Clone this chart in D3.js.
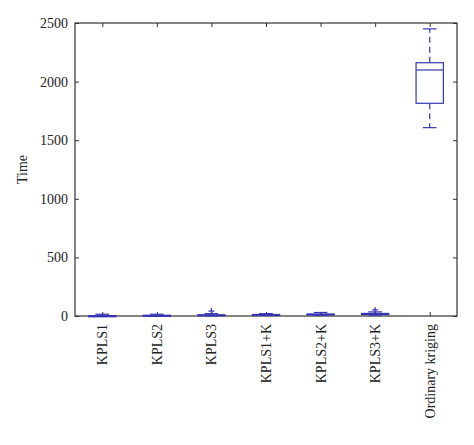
<!DOCTYPE html>
<html lang="en">
<head>
<meta charset="utf-8" />
<title>Time box plot</title>
<style>
  body { margin: 0; padding: 0; background: #fff; }
  svg text { font-family: "Liberation Serif", "DejaVu Serif", serif; fill: #222; }
  .frame { fill: none; stroke: #333; stroke-width: 1.2px; }
  .tick line { stroke: #333; }
  .domain { display: none; }
</style>
</head>
<body>
<div id="chart"></div>
<script src="https://d3js.org/d3.v7.min.js"></script>
<script>
// box statistics
const categories = ['KPLS1', 'KPLS2', 'KPLS3', 'KPLS1+K', 'KPLS2+K', 'KPLS3+K', 'Ordinary kriging'];
const whiskerLow = [0.5, 2, 3, 5, 7, 8, 1607];
const q1 = [1, 3, 5, 8, 10, 12, 1815];
const median = [1.5, 4, 7, 10, 13, 16, 2099];
const q3 = [2, 6, 10, 13, 17, 22, 2161];
const whiskerHigh = [15, 15, 20, 20, 30, 35, 2450];
const outliers = [[], [], [42], [], [], [52], []];
const yTicks = [0, 500, 1000, 1500, 2000, 2500];

const width = 474, height = 445;
const margin = { top: 23, right: 17, bottom: 129, left: 75 };
const color = '#3636b4';
const serif = '"Liberation Serif", "DejaVu Serif", serif';

const svg = d3.select('#chart').append('svg')
    .attr('width', width)
    .attr('height', height);

const x = d3.scalePoint()
    .domain(categories)
    .range([margin.left, width - margin.right])
    .padding(0.5);

const y = d3.scaleLinear()
    .domain([0, 2500])
    .range([height - margin.bottom, margin.top]);

const boxW = x.step() * 0.5;

// axes with inward ticks
svg.append('g')
    .attr('transform', `translate(${margin.left},0)`)
    .call(d3.axisLeft(y).tickValues(yTicks).tickFormat(d3.format('d')).tickSize(-4).tickPadding(7))
    .attr('font-family', serif)
    .attr('font-size', 14);

svg.append('g')
    .attr('transform', `translate(${width - margin.right},0)`)
    .call(d3.axisRight(y).tickValues(yTicks).tickSize(-4).tickFormat(''));

svg.append('g')
    .attr('transform', `translate(0,${margin.top})`)
    .call(d3.axisTop(x).tickSize(-4).tickFormat(''));

svg.append('g')
    .attr('transform', `translate(0,${height - margin.bottom})`)
    .call(d3.axisBottom(x).tickSize(-4).tickFormat(''));

svg.append('g').selectAll('text')
    .data(categories)
    .enter().append('text')
    .attr('transform', d => `translate(${x(d) + 5},${height - margin.bottom + 8}) rotate(-90)`)
    .attr('text-anchor', 'end')
    .attr('font-size', 14)
    .text(d => d);

svg.append('rect')
    .attr('class', 'frame')
    .attr('x', margin.left)
    .attr('y', margin.top)
    .attr('width', width - margin.left - margin.right)
    .attr('height', height - margin.top - margin.bottom);

svg.append('text')
    .attr('transform', `translate(27,${(margin.top + height - margin.bottom) / 2}) rotate(-90)`)
    .attr('text-anchor', 'middle')
    .attr('font-size', 14)
    .text('Time');

// boxes
const box = svg.append('g')
    .selectAll('g')
    .data(categories)
    .enter().append('g')
    .attr('stroke', color)
    .attr('fill', 'none')
    .attr('stroke-width', 1.2);

box.append('line')
    .attr('x1', d => x(d)).attr('x2', d => x(d))
    .attr('y1', (d, i) => y(q3[i])).attr('y2', (d, i) => y(whiskerHigh[i]))
    .attr('stroke-dasharray', '6,4');

box.append('line')
    .attr('x1', d => x(d)).attr('x2', d => x(d))
    .attr('y1', (d, i) => y(q1[i])).attr('y2', (d, i) => y(whiskerLow[i]))
    .attr('stroke-dasharray', '6,4');

box.append('line')
    .attr('x1', d => x(d) - boxW / 4).attr('x2', d => x(d) + boxW / 4)
    .attr('y1', (d, i) => y(whiskerHigh[i])).attr('y2', (d, i) => y(whiskerHigh[i]));

box.append('line')
    .attr('x1', d => x(d) - boxW / 4).attr('x2', d => x(d) + boxW / 4)
    .attr('y1', (d, i) => y(whiskerLow[i])).attr('y2', (d, i) => y(whiskerLow[i]));

box.append('rect')
    .attr('x', d => x(d) - boxW / 2)
    .attr('width', boxW)
    .attr('y', (d, i) => y(q3[i]))
    .attr('height', (d, i) => Math.max(1, y(q1[i]) - y(q3[i])));

box.append('line')
    .attr('x1', d => x(d) - boxW / 2).attr('x2', d => x(d) + boxW / 2)
    .attr('y1', (d, i) => y(median[i])).attr('y2', (d, i) => y(median[i]));

// outliers drawn as plus signs
box.each(function (d, i) {
  d3.select(this).selectAll('path.out')
    .data(outliers[i])
    .enter().append('path')
    .attr('class', 'out')
    .attr('d', v => `M${x(d) - 3},${y(v)}H${x(d) + 3}M${x(d)},${y(v) - 3}V${y(v) + 3}`);
});
</script>
</body>
</html>
